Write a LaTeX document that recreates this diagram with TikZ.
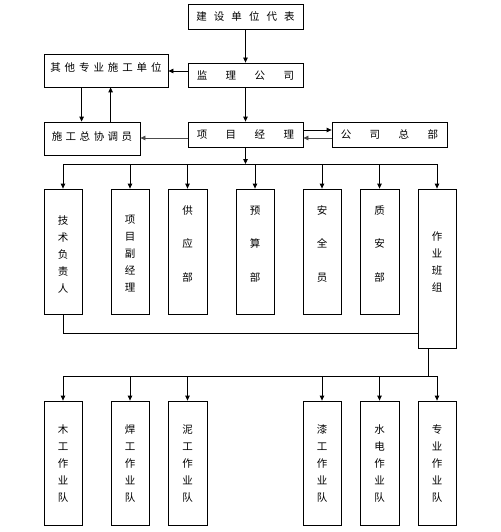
\documentclass[tikz,border=0pt]{standalone}
\usepackage{fontspec}
\newfontfamily\cjk{Noto Sans CJK SC}
\usetikzlibrary{arrows.meta}
\newcommand\gapx[1]{\hspace{#1pt}}
\begin{document}
\begin{tikzpicture}[x=1pt,y=-1pt,
  box/.style={draw,line width=0.8pt,inner sep=0pt,font=\cjk\fontsize{10.5}{12}\selectfont},
  vbox/.style={draw,line width=0.8pt,inner sep=0pt,minimum width=38pt},
  vtxt/.style={inner sep=0pt,align=center,font=\cjk\fontsize{10.5}{17}\selectfont},
  vtxtw/.style={inner sep=0pt,align=center,font=\cjk\fontsize{10.5}{33.5}\selectfont},
  ln/.style={line width=0.8pt},
  arr/.style={ln,-{Triangle[length=5pt,width=4.5pt]}},
  garr/.style={arr,draw=black!70},
]
\useasboundingbox[fill=white] (0,0) rectangle (500,532);

% top boxes
\node[box,minimum width=115pt,minimum height=25pt] (jsdw) at (245.5,16.5)
  {建\gapx{7.1}设\gapx{7.1}单\gapx{7.1}位\gapx{7.1}代\gapx{7.1}表};
\node[box,minimum width=115pt,minimum height=24pt] (jl) at (245.5,75)
  {监\gapx{18.5}理\gapx{18.5}公\gapx{18.5}司};
\node[box,minimum width=124pt,minimum height=33pt,text depth=6pt] (qt) at (106,70.5)
  {其\gapx{3.9}他\gapx{3.9}专\gapx{3.9}业\gapx{3.9}施\gapx{3.9}工\gapx{3.9}单\gapx{3.9}位};
\node[box,minimum width=96pt,minimum height=33pt,text depth=5pt] (zgz) at (92,138.5)
  {施\gapx{3.5}工\gapx{3.5}总\gapx{3.5}协\gapx{3.5}调\gapx{3.5}员};
\node[box,minimum width=115pt,minimum height=25pt] (xm) at (245.5,134.5)
  {项\gapx{18.5}目\gapx{18.5}经\gapx{18.5}理};
\node[box,minimum width=115pt,minimum height=25pt] (gs) at (389.5,134.5)
  {公\gapx{18.5}司\gapx{18.5}总\gapx{18.5}部};

% middle row
\node[vbox,minimum height=125pt] (b1) at (63,251.5) {};
\node[vtxt] (b1t) at (63,254) {技\\术\\负\\责\\人};
\node[vbox,minimum height=125pt] (b2) at (130,251.5) {};
\node[vtxt] (b2t) at (130,254) {项\\目\\副\\经\\理};
\node[vbox,minimum height=125pt,minimum width=39pt] (b3) at (187.5,251.5) {};
\node[vtxtw] (b3t) at (187.5,244) {供\\应\\部};
\node[vbox,minimum height=125pt] (b4) at (255,251.5) {};
\node[vtxtw] (b4t) at (255,244) {预\\算\\部};
\node[vbox,minimum height=125pt] (b5) at (322,251.5) {};
\node[vtxtw] (b5t) at (322,244) {安\\全\\员};
\node[vbox,minimum height=125pt,minimum width=39pt] (b6) at (379.5,251.5) {};
\node[vtxtw] (b6t) at (379.5,244) {质\\安\\部};
\node[vbox,minimum height=159pt] (b7) at (437,268.5) {};
\node[vtxt] (b7t) at (437,262) {作\\业\\班\\组};

% bottom row
\node[vbox,minimum height=124pt] (c1) at (63,463) {};
\node[vtxt] (c1t) at (63,464) {木\\工\\作\\业\\队};
\node[vbox,minimum height=124pt] (c2) at (130,463) {};
\node[vtxt] (c2t) at (130,464) {焊\\工\\作\\业\\队};
\node[vbox,minimum height=124pt,minimum width=39pt] (c3) at (187.5,463) {};
\node[vtxt] (c3t) at (187.5,464) {泥\\工\\作\\业\\队};
\node[vbox,minimum height=124pt] (c5) at (322,463) {};
\node[vtxt] (c5t) at (322,464) {漆\\工\\作\\业\\队};
\node[vbox,minimum height=124pt,minimum width=39pt] (c6) at (379.5,463) {};
\node[vtxt] (c6t) at (379.5,464) {水\\电\\作\\业\\队};
\node[vbox,minimum height=124pt] (c7) at (437,463) {};
\node[vtxt] (c7t) at (437,464) {专\\业\\作\\业\\队};

% connectors top
\draw[arr] (jsdw.south) -- (jl.north);
\draw[arr] (jl.south) -- (xm.north);
\draw[arr] ([yshift=4pt]jl.west) coordinate (a1) -- (a1 -| qt.east);
\draw[arr] ([xshift=38pt]qt.south west) -- ([xshift=38pt]zgz.north west);
\draw[arr] ([xshift=67pt]zgz.north west) -- ([xshift=67pt]qt.south west);
\draw[garr] ([yshift=-3.5pt]xm.west) coordinate (a2) -- (a2 -| zgz.east);
\draw[arr] ([yshift=4.5pt]xm.east) coordinate (a3) -- (a3 -| gs.west);
\draw[garr] ([yshift=-3.5pt]gs.west) coordinate (a4) -- (a4 -| xm.east);

% bus 1
\coordinate (bus1) at (245.5,164);
\draw[arr] (xm.south) -- (bus1);
\draw[ln] (b1.north |- bus1) -- (b7.north |- bus1);
\foreach \n in {b1,b2,b3,b4,b5,b6,b7}{
  \draw[arr] (\n.north |- bus1) -- (\n.north);
}
% link 1 -> 7
\coordinate (lk) at (0,333);
\draw[ln] (b1.south) |- (b7.west |- lk);

% bus 2
\coordinate (bus2) at (0,376);
\draw[ln] ([xshift=-9pt]b7.south) coordinate (a5) -- (a5 |- bus2);
\draw[ln] (c1.north |- bus2) -- (c7.north |- bus2);
\foreach \n in {c1,c2,c3,c5,c6,c7}{
  \draw[arr] (\n.north |- bus2) -- (\n.north);
}
\end{tikzpicture}
\end{document}
